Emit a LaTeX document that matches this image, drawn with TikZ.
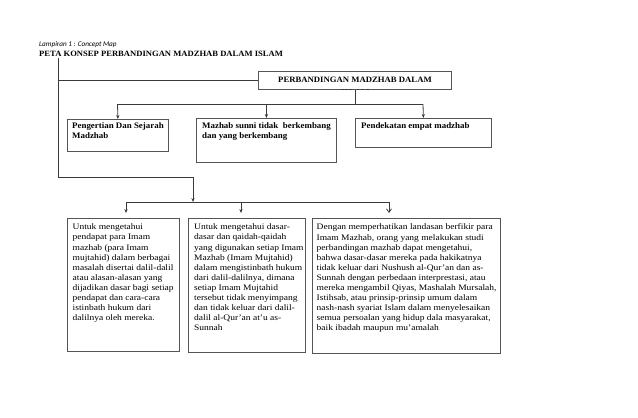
\documentclass[tikz,border=0pt]{standalone}
\usepackage{fontspec}
\setmainfont{Liberation Serif}[FakeStretch=1.06]
\newfontfamily\bodyfont{Liberation Serif}[FakeStretch=1.13]
\newfontfamily\capfont{Carlito}
\usetikzlibrary{arrows.meta}
\definecolor{linegray}{HTML}{3A3A3A}
\definecolor{boxgray}{HTML}{555555}
\tikzset{
  box/.style={draw=boxgray, line width=0.8pt, inner sep=0pt, anchor=north west},
  txt/.style={anchor=north west, inner sep=0pt, align=left, font=\bodyfont\fontsize{8.4}{10.1}\selectfont},
  btxt/.style={anchor=north west, inner sep=0pt, align=left, font=\fontsize{8.4}{10}\selectfont\bfseries},
  conn/.style={draw=linegray, line width=0.8pt},
  arr/.style={conn, -{Stealth[length=4pt,width=3.2pt]}},
  oarr/.style={conn, -{Straight Barb[length=3.5pt,width=5pt]}},
}
\begin{document}
\begin{tikzpicture}[x=1pt,y=-1pt]
\useasboundingbox (0,0) rectangle (638,418);
% headings
\node[anchor=base west, inner sep=0pt, font=\capfont\itshape\fontsize{7.2}{8}\selectfont] (cap) at (39,46) {Lampiran 1 : Concept Map};
\node[anchor=base west, inner sep=0pt, font=\fontsize{8.1}{10}\selectfont\bfseries] (title) at (39,56) {PETA KONSEP PERBANDINGAN MADZHAB DALAM ISLAM};
% top box
\node[box, minimum width=193pt, minimum height=18pt] (top) at (258,71) {};
\node[anchor=base, inner sep=0pt, font=\fontsize{8.2}{10}\selectfont\bfseries] (toptxt) at (355,82) {PERBANDINGAN MADZHAB DALAM};
\begin{scope}
\clip (top.north west) rectangle (top.south east);
\node[anchor=base, inner sep=0pt, font=\fontsize{8.2}{10}\selectfont\bfseries] (islam) at (355,95.3) {ISLAM};
\end{scope}
% second level boxes
\node[box, minimum width=101pt, minimum height=32pt] (b1) at (67,119) {};
\node[btxt] (t1) at (72,122.2) {Pengertian Dan Sejarah\\Madzhab};
\node[box, minimum width=140pt, minimum height=44pt] (b2) at (196,118) {};
\node[btxt] (t2) at (202,122.2) {Mazhab sunni tidak\ \ berkembang\\dan yang berkembang};
\node[box, minimum width=136pt, minimum height=29pt] (b3) at (355,118) {};
\node[btxt] (t3) at (361,122.2) {Pendekatan empat madzhab};
% third level boxes
\node[box, minimum width=112pt, minimum height=133pt] (bA) at (67,218) {};
\node[txt] (tA) at (72.5,223.8) {Untuk mengetahui\\pendapat para Imam\\mazhab (para Imam\\mujtahid) dalam berbagai\\masalah disertai dalil-dalil\\atau alasan-alasan yang\\dijadikan dasar bagi setiap\\pendapat dan cara-cara\\istinbath hukum dari\\dalilnya oleh mereka.};
\node[box, minimum width=117pt, minimum height=134pt] (bB) at (188,218) {};
\node[txt] (tB) at (194,223.8) {Untuk mengetahui dasar-\\dasar dan qaidah-qaidah\\yang digunakan setiap Imam\\Mazhab (Imam Mujtahid)\\dalam mengistinbath hukum\\dari dalil-dalilnya, dimana\\setiap Imam Mujtahid\\tersebut tidak menyimpang\\dan tidak keluar dari dalil-\\dalil al-Qur’an at’u as-\\Sunnah};
\node[box, minimum width=188pt, minimum height=135pt] (bC) at (312,218) {};
\node[txt] (tC) at (316.5,223.8) {Dengan memperhatikan landasan berfikir para\\Imam Mazhab, orang yang melakukan studi\\perbandingan mazhab dapat mengetahui,\\bahwa dasar-dasar mereka pada hakikatnya\\tidak keluar dari Nushush al-Qur’an dan as-\\Sunnah dengan perbedaan interprestasi, atau\\mereka mengambil Qiyas, Mashalah Mursalah,\\Istihsab, atau prinsip-prinsip umum dalam\\nash-nash syariat Islam dalam menyelesaikan\\semua persoalan yang hidup dala masyarakat,\\baik ibadah maupun mu’amalah};
% connector coordinates
\coordinate (v0) at (58,58);
\coordinate (v1) at (58,80.5);
\coordinate (v2) at (58,177);
\coordinate (v3) at (193,177);
\coordinate (j1) at (355,104);
\coordinate (h1) at (117.5,104);
\coordinate (h3) at (423,104);
\coordinate (j2) at (193,202);
\coordinate (k1) at (126,202);
\coordinate (k2) at (241,202);
\coordinate (k3) at (389,202);
% connectors
\draw[conn] (v0) -- (v2) -- (v3);
\draw[conn] (v1) -- (top.west |- v1);
\draw[conn] (top.south -| j1) -- (j1);
\draw[conn] (h1) -- (h3);
\draw[arr] (h1) -- (b1.north);
\draw[arr] (b2.north |- j1) -- (b2.north);
\draw[arr] (h3) -- (b3.north);
\draw[arr] (v3) -- (j2);
\draw[conn] (k1) -- (k3);
\draw[arr] (k1) -- ([yshift=5pt]bA.north -| k1);
\draw[arr] (k2) -- ([yshift=5pt]bB.north -| k2);
\draw[oarr] (k3) -- ([yshift=5pt]bC.north -| k3);
\end{tikzpicture}
\end{document}
